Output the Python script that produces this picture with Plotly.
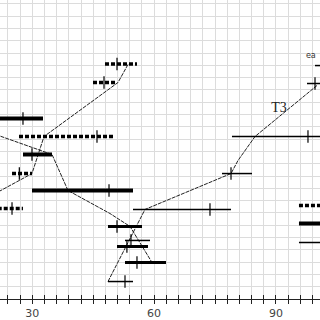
import plotly.graph_objects as go

# ---- x axis ticks ----
tick_vals = list(range(21, 103, 3))
tick_text = [str(v) if v in (30, 60, 90) else "" for v in tick_vals]

# ---- dashed thick bars ----
dashed_y = [19.11, 17.6, 13.21, 10.2, 7.36, 7.6]
dashed_x0 = [47.9, 44.95, 26.72, 25.0, 20.0, 95.68]
dashed_x1 = [55.78, 50.86, 49.87, 29.92, 27.7, 104.0]
dashed_xc = [50.86, 47.66, 45.93, 26.8, 25.0, None]

# ---- thick solid bars ----
thick_y = [14.67, 11.75, 8.82, 6.14]
thick_x0 = [20.0, 27.7, 29.92, 95.68]
thick_x1 = [32.63, 34.85, 54.8, 104.0]
thick_xc = [27.7, 29.92, 48.89, None]

# ---- medium solid bars ----
medium_y = [5.89, 4.27, 2.97]
medium_x0 = [48.64, 50.86, 52.83]
medium_x1 = [57.02, 58.49, 62.93]
medium_xc = [50.86, 53.3, 55.78]

# ---- thin solid bars ----
thin_y = [13.21, 10.2, 7.28, 4.76, 1.42, 17.52, 18.98, 4.59]
thin_x0 = [79.18, 76.72, 54.8, 52.83, 48.64, 97.66, 99.63, 95.68]
thin_x1 = [104.0, 84.11, 78.94, 58.99, 54.8, 104.0, 104.0, 104.0]
thin_xc = [97.9, 78.94, 73.76, 54.3, 52.83, 99.63, None, None]

# ---- connecting lines ----
lineA_x = [53.57, 51.1, 32.88, 29.92, 21.0]
lineA_y = [19.07, 17.6, 13.21, 10.2, 8.6]
lineB_x = [21.0, 34.85, 38.79, 49.13, 54.06, 59.48]
lineB_y = [13.37, 11.75, 8.82, 6.95, 5.9, 2.97]
lineC_x = [48.64, 57.75, 78.94, 80.66, 84.85, 100.12]
lineC_y = [1.42, 7.28, 10.2, 11.26, 13.21, 17.36]

labels_text = ["T3", "ea"]
labels_x = [90.76, 98.6]
labels_y = [15.49, 19.72]

fig = go.Figure()


def bar_trace(ys, x0s, x1s, width, dash):
    xs, yy = [], []
    for y, a, b in zip(ys, x0s, x1s):
        xs += [a, b, None]
        yy += [y, y, None]
    return go.Scatter(x=xs, y=yy, mode="lines", hoverinfo="skip",
                      line=dict(color="black", width=width, dash=dash),
                      showlegend=False)


def cross_trace(ys, xcs):
    pts = [(x, y) for x, y in zip(xcs, ys) if x is not None]
    return go.Scatter(x=[p[0] for p in pts], y=[p[1] for p in pts],
                      mode="markers", hoverinfo="skip", showlegend=False,
                      marker=dict(symbol="line-ns", size=9,
                                  line=dict(color="black", width=1.2)))


for lx, ly in ((lineA_x, lineA_y), (lineB_x, lineB_y), (lineC_x, lineC_y)):
    fig.add_trace(go.Scatter(x=lx, y=ly, mode="lines", hoverinfo="skip",
                             showlegend=False,
                             line=dict(color="#222222", width=1, dash="4px,1px")))

fig.add_trace(bar_trace(dashed_y, dashed_x0, dashed_x1, 3.5, "4px,2px"))
fig.add_trace(bar_trace(thick_y, thick_x0, thick_x1, 4, "solid"))
fig.add_trace(bar_trace(medium_y, medium_x0, medium_x1, 3, "solid"))
fig.add_trace(bar_trace(thin_y, thin_x0, thin_x1, 1.5, "solid"))
for ys, xcs in ((dashed_y, dashed_xc), (thick_y, thick_xc),
                (medium_y, medium_xc), (thin_y, thin_xc)):
    fig.add_trace(cross_trace(ys, xcs))

fig.add_trace(go.Scatter(x=[labels_x[0]], y=[labels_y[0]], mode="text",
                         text=[labels_text[0]], showlegend=False, hoverinfo="skip",
                         textfont=dict(family="Liberation Serif", size=14, color="#222")))
fig.add_trace(go.Scatter(x=[labels_x[1]], y=[labels_y[1]], mode="text",
                         text=[labels_text[1]], showlegend=False, hoverinfo="skip",
                         textfont=dict(family="DejaVu Sans", size=8, color="#333")))

# invisible trace on second x axis for inside ticks
fig.add_trace(go.Scatter(x=[50], y=[0], xaxis="x2", mode="markers",
                         marker=dict(opacity=0), showlegend=False, hoverinfo="skip"))

xr = [22.04, 100.86]
fig.update_layout(
    width=320, height=320,
    margin=dict(l=0, r=0, t=0, b=21),
    paper_bgcolor="white", plot_bgcolor="white",
    xaxis=dict(range=xr, tickmode="array", tickvals=tick_vals, ticktext=tick_text,
               ticks="outside", ticklen=4, tickwidth=1, tickcolor="#222",
               showgrid=True, gridcolor="#dcdcdc", gridwidth=1,
               showline=True, linecolor="#222", linewidth=1, zeroline=False,
               tickfont=dict(family="DejaVu Sans", size=11, color="#444")),
    xaxis2=dict(range=xr, overlaying="x", anchor="y", side="bottom",
                tickmode="array", tickvals=tick_vals, ticks="inside", ticklen=4,
                tickwidth=1, tickcolor="#222", showticklabels=False,
                showgrid=False, zeroline=False, showline=False),
    yaxis=dict(range=[0, 24.31], dtick=1, tick0=0, showticklabels=False,
               showgrid=True, gridcolor="#dcdcdc", gridwidth=1,
               zeroline=False, showline=False, ticks=""),
)

fig.write_html("out.html")
